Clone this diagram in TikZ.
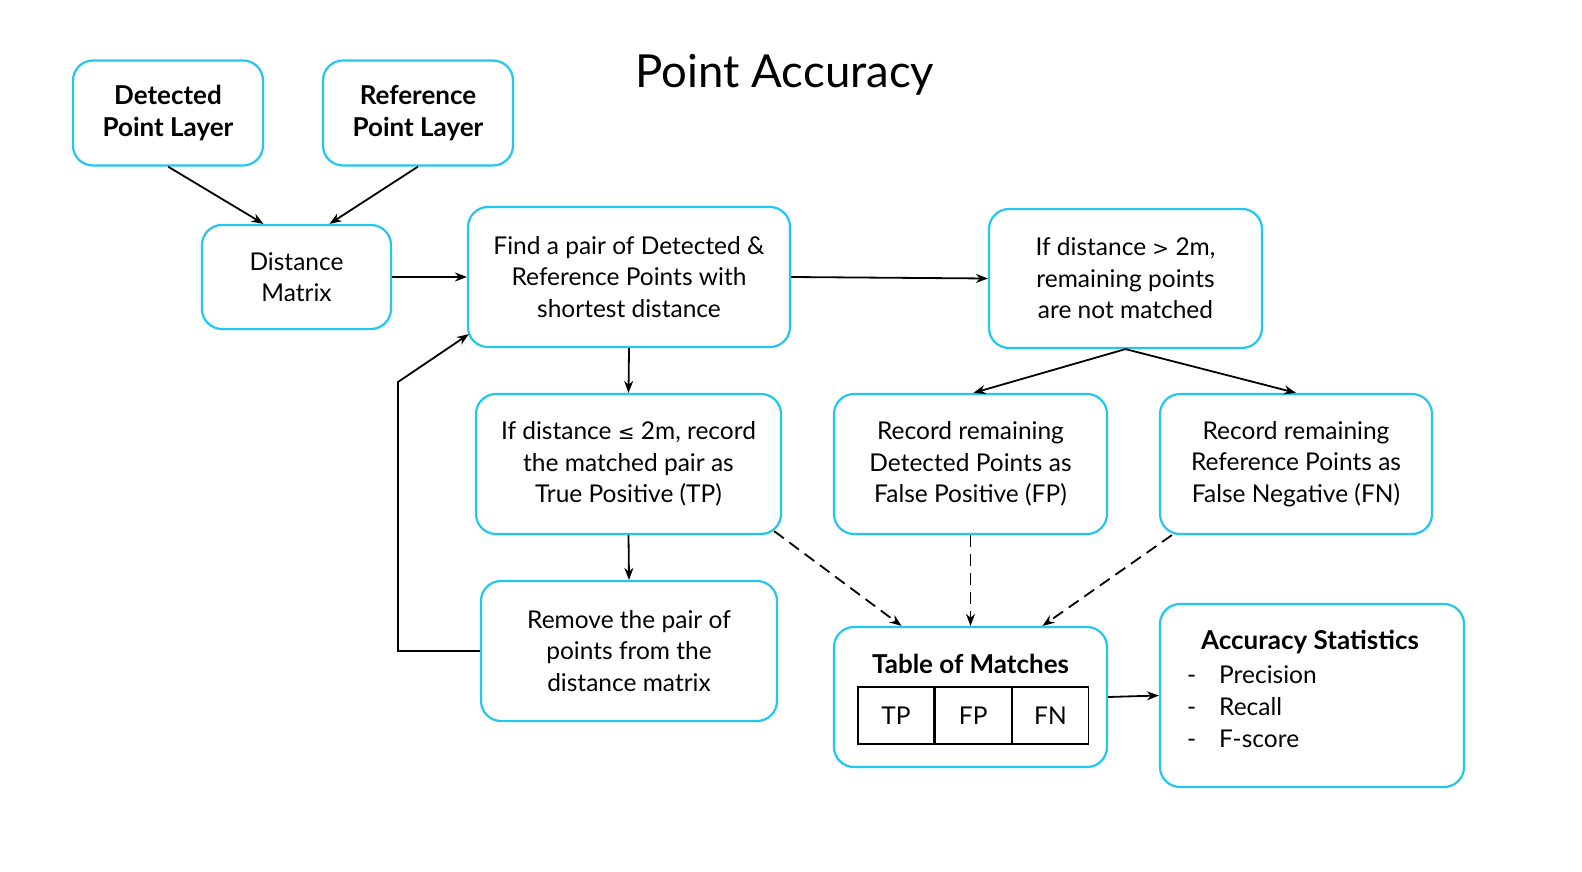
\documentclass[tikz,border=0pt]{standalone}
\usepackage{fontspec}
\setmainfont{Lato}
\newfontfamily\symfont{DejaVu Sans}
\usetikzlibrary{arrows.meta,positioning,calc}
\definecolor{boxcyan}{HTML}{22C6EE}
\begin{document}
\begin{tikzpicture}[x=1pt,y=-1pt,
  box/.style={draw=boxcyan,line width=2.2pt,rounded corners=20pt,align=center,
    inner sep=0pt,font=\fontsize{24.5}{31.5}\selectfont},
  bbox/.style={box,font=\fontsize{26}{32}\selectfont\bfseries},
  arr/.style={-{Stealth[length=12pt,width=9pt]},line width=1.8pt},
  darr/.style={arr,dash pattern=on 12pt off 7pt},
  cell/.style={draw=black,line width=1.2pt,minimum width=76pt,minimum height=57pt,
    inner sep=0pt,font=\fontsize{24.5}{28}\selectfont},
  txt/.style={inner sep=0pt,font=\fontsize{24.5}{31.5}\selectfont,anchor=base west}]
\useasboundingbox (0,0) rectangle (1582,872);
\node[font=\fontsize{45.5}{50}\selectfont] (title) at (785,75) {Point Accuracy};
\node[bbox,minimum width=190pt,minimum height=105pt] (det) at (168,113) {Detected\\Point Layer};
\node[bbox,minimum width=190pt,minimum height=105pt] (ref) at (418,113) {Reference\\Point Layer};
\node[box,minimum width=189pt,minimum height=104pt] (dm) at (296.5,277) {Distance\\Matrix};
\node[box,minimum width=322pt,minimum height=140pt] (find) at (629,277) {Find a pair of Detected \&\\Reference Points with\\shortest distance};
\node[box,minimum width=273pt,minimum height=139pt] (gt) at (1125.5,278.5) {If distance {\symfont\fontsize{20}{24}\selectfont >} 2m,\\remaining points\\are not matched};
\node[box,minimum width=305pt,minimum height=140pt] (tp) at (628.5,464) {If distance {\symfont\fontsize{20}{24}\selectfont ≤} 2m, record\\the matched pair as\\True Positive (TP)};
\node[box,minimum width=273pt,minimum height=140pt] (fpb) at (970.5,464) {Record remaining\\Detected Points as\\False Positive (FP)};
\node[box,minimum width=272pt,minimum height=140pt] (fnb) at (1296,464) {Record remaining\\Reference Points as\\False Negative (FN)};
\node[box,minimum width=296pt,minimum height=140pt] (rm) at (629,651) {Remove the pair of\\points from the\\distance matrix};
\node[box,minimum width=273pt,minimum height=140pt] (tab) at (970.5,697) {};
\node[font=\fontsize{26}{30}\selectfont\bfseries] (tabt) at (970.5,664) {Table of Matches};
\node[cell] (ctp) at (896,715.5) {TP};
\node[cell,right=0pt of ctp] (cfp) {FP};
\node[cell,right=0pt of cfp] (cfn) {FN};
\node[box,minimum width=304pt,minimum height=183pt] (stats) at (1312,695.5) {};
\node[font=\fontsize{26}{30}\selectfont\bfseries] (statt) at (1310,642) {Accuracy Statistics};
\node[txt] (d1) at (1187,683) {-};
\node[txt] (s1) at (1219,683) {Precision};
\node[txt] (d2) at (1187,715) {-};
\node[txt] (s2) at (1219,715) {Recall};
\node[txt] (d3) at (1187,747) {-};
\node[txt] (s3) at (1219,747) {F-score};
\draw[arr] (det.south) -- ($(dm.north)+(-33,0)$);
\draw[arr] (ref.south) -- ($(dm.north)+(33,0)$);
\draw[arr] (dm.east) -- (find.west);
\draw[arr] (find.east) -- (gt.west);
\draw[arr] (find.south) -- (tp.north);
\draw[arr] (tp.south) -- (rm.north);
\coordinate (lp1) at (398,651);
\coordinate (lp2) at (398,382);
\draw[arr] (rm.west) -- (lp1) -- (lp2) -- ($(find.south west)+(2,-14)$);
\draw[arr] (gt.south) -- ($(fpb.north)+(3,0)$);
\draw[arr] (gt.south) -- (fnb.north);
\draw[darr] ($(tp.south east)+(-8,-4)$) -- ($(tab.north)+(-69,0)$);
\draw[darr] (fpb.south) -- (tab.north);
\draw[darr] ($(fnb.south west)+(13,0)$) -- ($(tab.north)+(72,0)$);
\draw[arr] (tab.east) -- (stats.west);
\end{tikzpicture}
\end{document}
